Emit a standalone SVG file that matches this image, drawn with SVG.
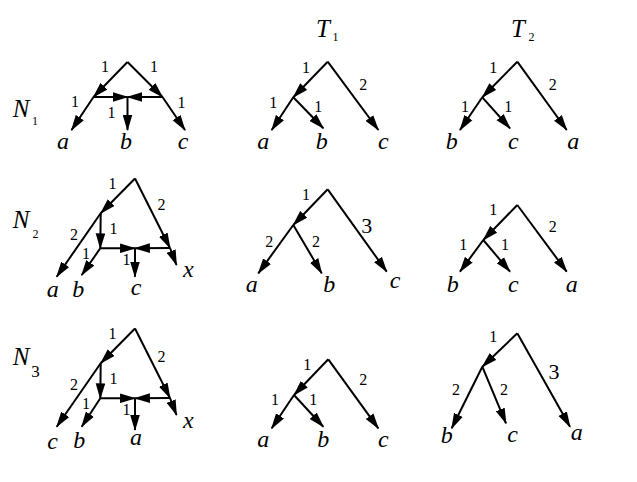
<svg xmlns="http://www.w3.org/2000/svg" width="637" height="482" viewBox="0 0 637 482">
<defs>
<marker id="ah" markerUnits="userSpaceOnUse" markerWidth="16" markerHeight="10" refX="14" refY="4.5" orient="auto" viewBox="0 0 15 9">
<path d="M0,0 L15,4.5 L0,9 z" fill="#000"/>
</marker>
</defs>
<style>
.e{stroke:#000;stroke-width:2;fill:none;marker-end:url(#ah)}
.lf{font-family:"Liberation Serif",serif;font-style:italic;font-size:24px;text-anchor:middle;fill:#000}
.tt{font-family:"Liberation Serif",serif;font-style:italic;font-size:25px;text-anchor:middle;fill:#000}
.d{font-family:"Liberation Serif",serif;font-size:16px;text-anchor:middle;fill:#000}
.d3{font-family:"Liberation Serif",serif;font-size:22px;text-anchor:middle;fill:#000}
.s{font-family:"Liberation Serif",serif;font-size:12px;text-anchor:middle;fill:#000}
.s3{font-family:"Liberation Serif",serif;font-size:17px;text-anchor:middle;fill:#000}
</style>
<rect width="637" height="482" fill="#fff"/>

<!-- Titles -->
<g id="title-N1"><text class="tt" x="21" y="117">N</text><text class="s" x="35" y="125">1</text></g>
<g id="title-N2"><text class="tt" x="21" y="228">N</text><text class="s" x="35.5" y="238">2</text></g>
<g id="title-N3"><text class="tt" x="21" y="365">N</text><text class="s3" x="35.5" y="377">3</text></g>
<g id="title-T1"><text class="tt" x="323" y="37">T</text><text class="s" x="335.5" y="41">1</text></g>
<g id="title-T2"><text class="tt" x="518" y="37">T</text><text class="s" x="531.5" y="41">2</text></g>

<!-- N1 -->
<g id="N1">
<g id="N1-connectors">
<line class="e" x1="127.5" y1="62" x2="93.5" y2="97"/>
<line class="e" x1="127.5" y1="62" x2="162.5" y2="97"/>
<line class="e" x1="93.5" y1="97" x2="127.5" y2="97"/>
<line class="e" x1="162.5" y1="97" x2="127.5" y2="97"/>
<line class="e" x1="93.5" y1="97" x2="71.5" y2="130"/>
<line class="e" x1="127.5" y1="97" x2="127.5" y2="130"/>
<line class="e" x1="162.5" y1="97" x2="185" y2="130"/>
</g>
<g id="N1-labels">
<text class="d" x="105" y="72">1</text>
<text class="d" x="154" y="72">1</text>
<text class="d" x="75" y="107">1</text>
<text class="d" x="111.5" y="118">1</text>
<text class="d" x="181.5" y="108">1</text>
</g>
<g id="N1-a"><text class="lf" x="63" y="148.5">a</text></g>
<g id="N1-b"><text class="lf" x="126" y="148.5">b</text></g>
<g id="N1-c"><text class="lf" x="183" y="148.5">c</text></g>
</g>

<!-- N2 -->
<g id="N2">
<g id="N2-connectors">
<line class="e" x1="135" y1="178.5" x2="100.7" y2="213.3"/>
<line class="e" x1="135" y1="178.5" x2="170" y2="248"/>
<line class="e" x1="100.7" y1="213.3" x2="56.7" y2="276.7"/>
<line class="e" x1="100.7" y1="213.3" x2="100.3" y2="248.3"/>
<line class="e" x1="100.3" y1="248.3" x2="81.7" y2="275"/>
<line class="e" x1="100.3" y1="248.3" x2="135" y2="248.3"/>
<line class="e" x1="170" y1="248" x2="135" y2="248.3"/>
<line class="e" x1="135" y1="248.3" x2="135" y2="276.7"/>
<line class="e" x1="170" y1="248" x2="176.5" y2="265"/>
</g>
<g id="N2-labels">
<text class="d" x="112.5" y="188.5">1</text>
<text class="d" x="161.5" y="210">2</text>
<text class="d" x="74" y="240">2</text>
<text class="d" x="113.5" y="233.5">1</text>
<text class="d" x="86" y="258.5">1</text>
<text class="d" x="126.5" y="265">1</text>
</g>
<g id="N2-a"><text class="lf" x="52.7" y="297">a</text></g>
<g id="N2-b"><text class="lf" x="78.3" y="297">b</text></g>
<g id="N2-c"><text class="lf" x="136" y="295">c</text></g>
<g id="N2-x"><text class="lf" x="188.3" y="277">x</text></g>
</g>

<!-- N3 -->
<g id="N3">
<g id="N3-connectors">
<line class="e" x1="135" y1="328.5" x2="100.7" y2="363.3"/>
<line class="e" x1="135" y1="328.5" x2="170" y2="398"/>
<line class="e" x1="100.7" y1="363.3" x2="56.7" y2="426.7"/>
<line class="e" x1="100.7" y1="363.3" x2="100.3" y2="398.3"/>
<line class="e" x1="100.3" y1="398.3" x2="81.7" y2="426.7"/>
<line class="e" x1="100.3" y1="398.3" x2="135" y2="398.3"/>
<line class="e" x1="170" y1="398" x2="135" y2="398.3"/>
<line class="e" x1="135" y1="398.3" x2="135" y2="430"/>
<line class="e" x1="170" y1="398" x2="176.5" y2="415"/>
</g>
<g id="N3-labels">
<text class="d" x="112.5" y="338.5">1</text>
<text class="d" x="161.5" y="361.5">2</text>
<text class="d" x="74" y="390">2</text>
<text class="d" x="113.5" y="383.5">1</text>
<text class="d" x="86" y="408.5">1</text>
<text class="d" x="126.5" y="415">1</text>
</g>
<g id="N3-c"><text class="lf" x="52.7" y="448.5">c</text></g>
<g id="N3-b"><text class="lf" x="79.3" y="447.5">b</text></g>
<g id="N3-a"><text class="lf" x="136" y="444.5">a</text></g>
<g id="N3-x"><text class="lf" x="188.3" y="427.5">x</text></g>
</g>

<!-- Row 1 T1 -->
<g id="T1-row1">
<g id="T1r1-connectors">
<line class="e" x1="327.7" y1="61.7" x2="293.3" y2="97.3"/>
<line class="e" x1="327.7" y1="61.7" x2="378.3" y2="130"/>
<line class="e" x1="293.3" y1="97.3" x2="271.7" y2="130"/>
<line class="e" x1="293.3" y1="97.3" x2="323.3" y2="128.3"/>
</g>
<g id="T1r1-labels">
<text class="d" x="306" y="73">1</text>
<text class="d" x="363.3" y="90">2</text>
<text class="d" x="273.3" y="108">1</text>
<text class="d" x="318.3" y="111.7">1</text>
</g>
<g id="T1r1-a"><text class="lf" x="263.3" y="148.5">a</text></g>
<g id="T1r1-b"><text class="lf" x="321.7" y="148.5">b</text></g>
<g id="T1r1-c"><text class="lf" x="383.3" y="148.5">c</text></g>
</g>

<!-- Row 1 T2 -->
<g id="T2-row1">
<g id="T2r1-connectors">
<line class="e" x1="517.3" y1="61.7" x2="482.3" y2="97.3"/>
<line class="e" x1="517.3" y1="61.7" x2="566.7" y2="130"/>
<line class="e" x1="482.3" y1="97.3" x2="460" y2="130"/>
<line class="e" x1="482.3" y1="97.3" x2="510" y2="128.3"/>
</g>
<g id="T2r1-labels">
<text class="d" x="493.3" y="73">1</text>
<text class="d" x="552.7" y="90">2</text>
<text class="d" x="465" y="111.7">1</text>
<text class="d" x="508.3" y="111.7">1</text>
</g>
<g id="T2r1-b"><text class="lf" x="451.7" y="148.5">b</text></g>
<g id="T2r1-c"><text class="lf" x="513.3" y="148.5">c</text></g>
<g id="T2r1-a"><text class="lf" x="573.3" y="148.5">a</text></g>
</g>

<!-- Row 2 T1 -->
<g id="T1-row2">
<g id="T1r2-connectors">
<line class="e" x1="327.7" y1="189.3" x2="293.3" y2="225"/>
<line class="e" x1="327.7" y1="189.3" x2="386.7" y2="271.7"/>
<line class="e" x1="293.3" y1="225" x2="258.3" y2="273.3"/>
<line class="e" x1="293.3" y1="225" x2="321.7" y2="273.3"/>
</g>
<g id="T1r2-labels">
<text class="d" x="306" y="200">1</text>
<text class="d3" x="366.7" y="232.5">3</text>
<text class="d" x="269.3" y="246.7">2</text>
<text class="d" x="316" y="246.7">2</text>
</g>
<g id="T1r2-a"><text class="lf" x="251.7" y="291.5">a</text></g>
<g id="T1r2-b"><text class="lf" x="329.3" y="291.5">b</text></g>
<g id="T1r2-c"><text class="lf" x="395" y="288">c</text></g>
</g>

<!-- Row 2 T2 -->
<g id="T2-row2">
<g id="T2r2-connectors">
<line class="e" x1="517.3" y1="205" x2="483.3" y2="240"/>
<line class="e" x1="517.3" y1="205" x2="566.7" y2="271.7"/>
<line class="e" x1="483.3" y1="240" x2="460" y2="271.7"/>
<line class="e" x1="483.3" y1="240" x2="510" y2="271.7"/>
</g>
<g id="T2r2-labels">
<text class="d" x="493.3" y="215">1</text>
<text class="d" x="552.7" y="231.7">2</text>
<text class="d" x="463.3" y="250">1</text>
<text class="d" x="505" y="250">1</text>
</g>
<g id="T2r2-b"><text class="lf" x="452.7" y="291.5">b</text></g>
<g id="T2r2-c"><text class="lf" x="513.3" y="291.5">c</text></g>
<g id="T2r2-a"><text class="lf" x="571.7" y="291.5">a</text></g>
</g>

<!-- Row 3 T1 -->
<g id="T1-row3">
<g id="T1r3-connectors">
<line class="e" x1="328.3" y1="359.3" x2="294" y2="395"/>
<line class="e" x1="328.3" y1="359.3" x2="378.3" y2="428.3"/>
<line class="e" x1="294" y1="395" x2="271.7" y2="428.3"/>
<line class="e" x1="294" y1="395" x2="323.3" y2="426.7"/>
</g>
<g id="T1r3-labels">
<text class="d" x="307.3" y="370">1</text>
<text class="d" x="363.3" y="385">2</text>
<text class="d" x="275" y="405">1</text>
<text class="d" x="313.3" y="405">1</text>
</g>
<g id="T1r3-a"><text class="lf" x="263.3" y="446.7">a</text></g>
<g id="T1r3-b"><text class="lf" x="323.3" y="446.7">b</text></g>
<g id="T1r3-c"><text class="lf" x="383.3" y="446.7">c</text></g>
</g>

<!-- Row 3 T2 -->
<g id="T2-row3">
<g id="T2r3-connectors">
<line class="e" x1="517.3" y1="333.3" x2="482.3" y2="366.7"/>
<line class="e" x1="517.3" y1="333.3" x2="570" y2="426.7"/>
<line class="e" x1="482.3" y1="366.7" x2="451.7" y2="428.3"/>
<line class="e" x1="482.3" y1="366.7" x2="506" y2="423.3"/>
</g>
<g id="T2r3-labels">
<text class="d" x="493.3" y="341.7">1</text>
<text class="d3" x="554" y="379.2">3</text>
<text class="d" x="456" y="395">2</text>
<text class="d" x="504" y="395">2</text>
</g>
<g id="T2r3-b"><text class="lf" x="446.7" y="443.3">b</text></g>
<g id="T2r3-c"><text class="lf" x="512.7" y="441.7">c</text></g>
<g id="T2r3-a"><text class="lf" x="576.7" y="440">a</text></g>
</g>
</svg>
